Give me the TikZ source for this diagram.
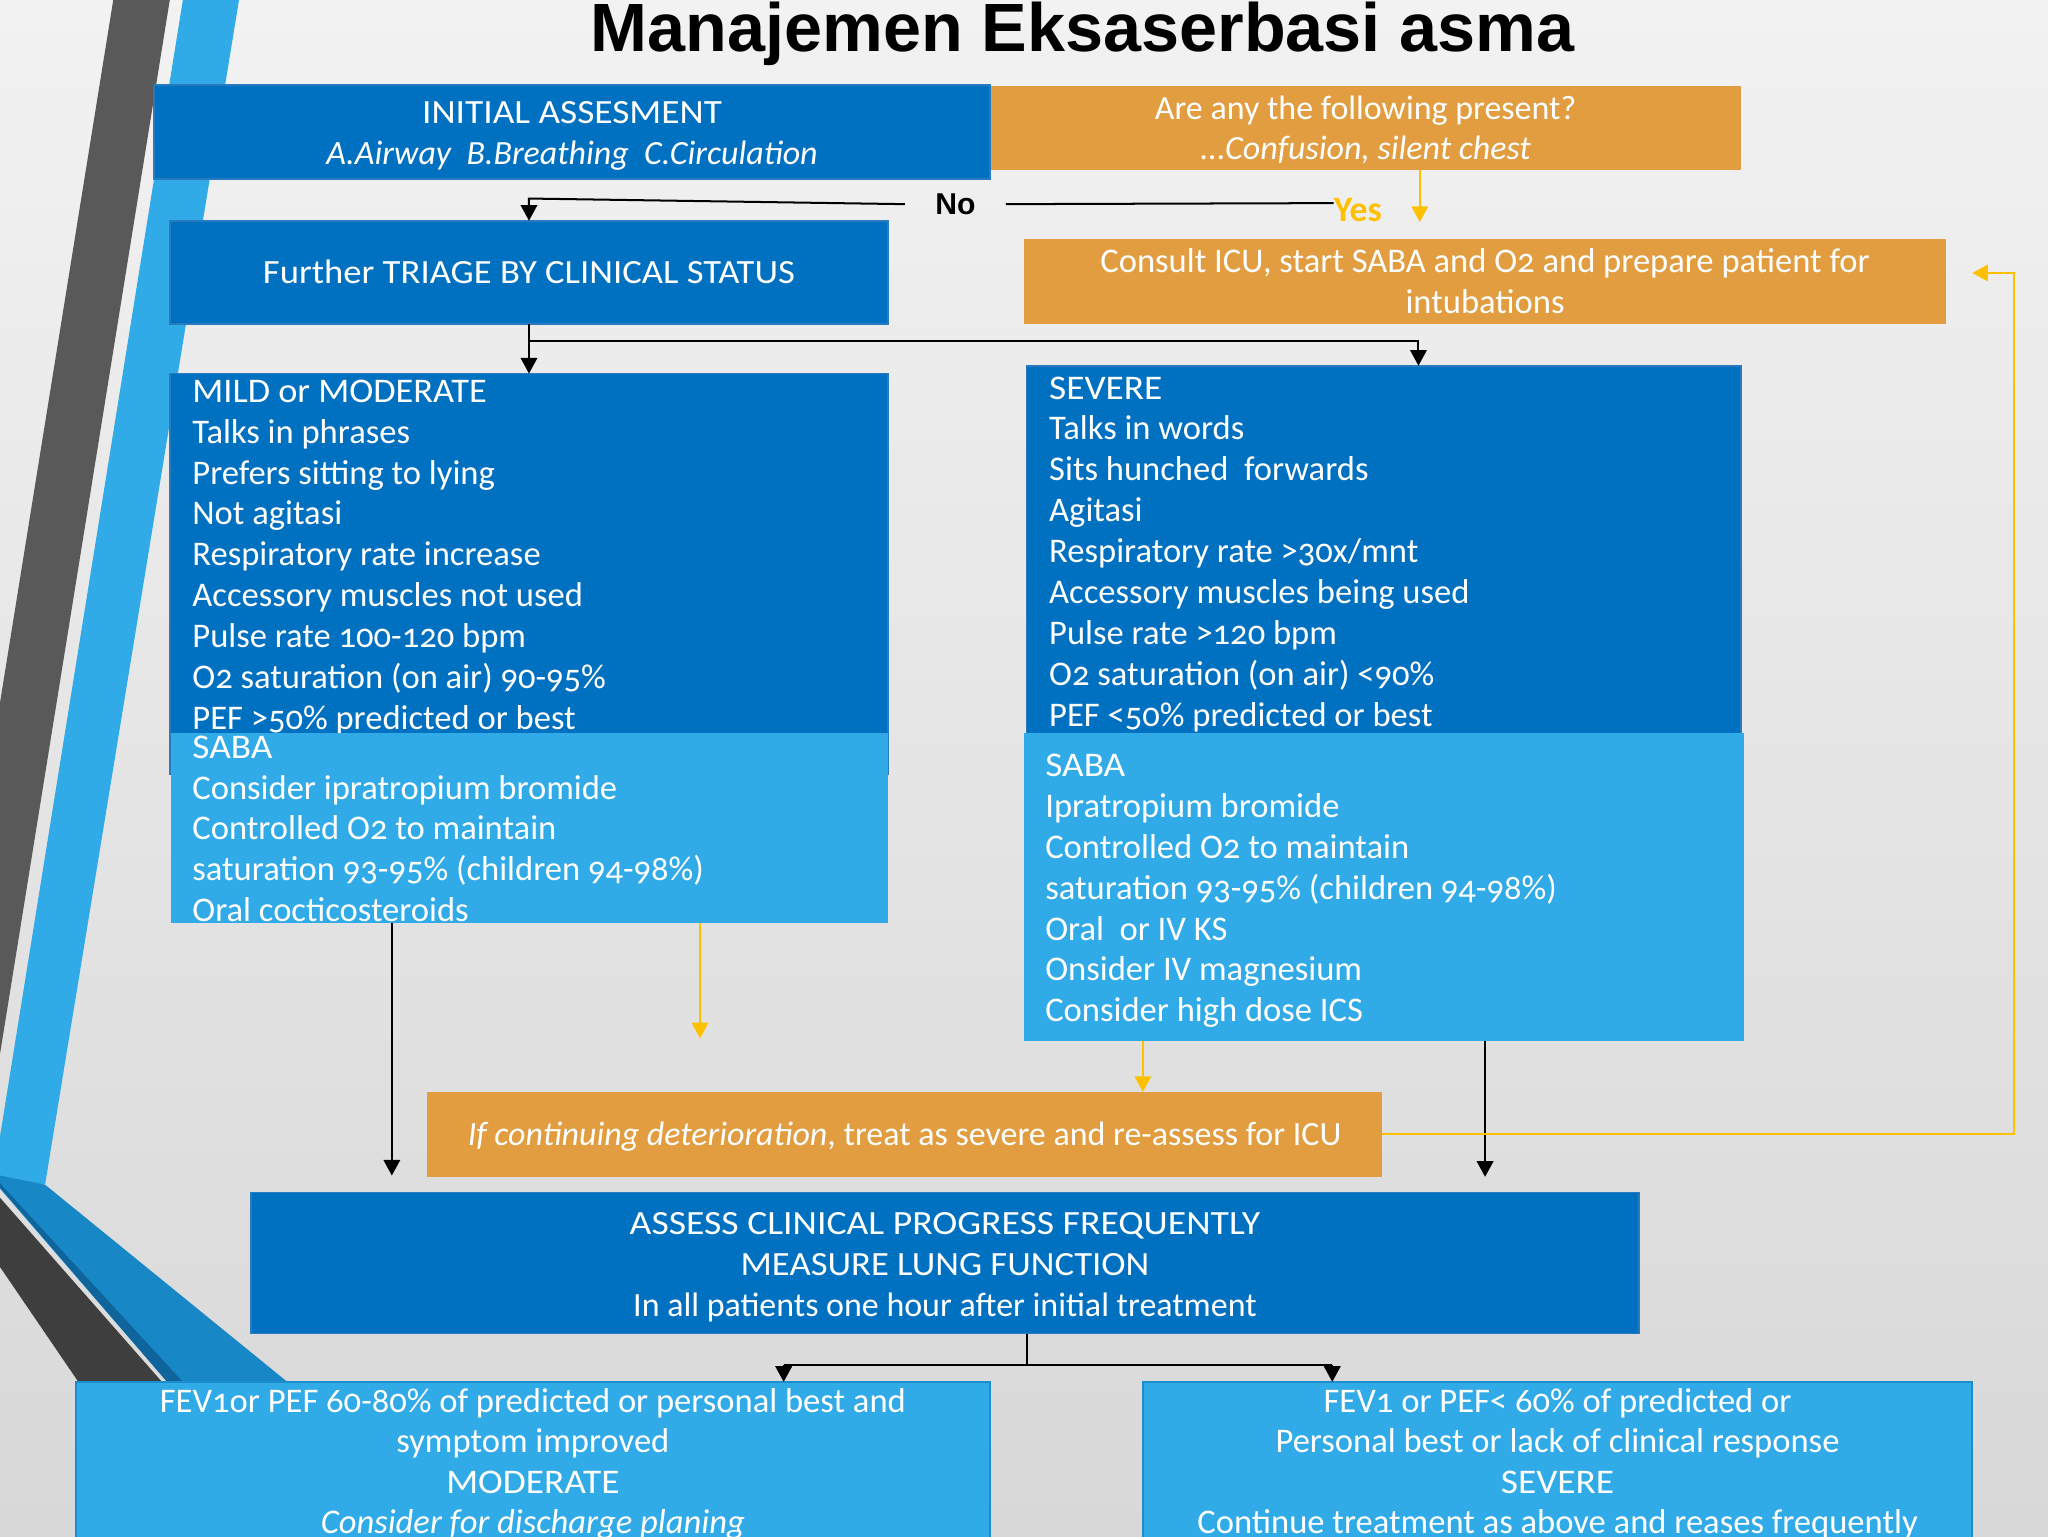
\documentclass[tikz,border=0pt]{standalone}
\usepackage{graphicx}
\usepackage{fontspec}
\setmainfont{Carlito}[Numbers=OldStyle]
\newfontfamily\titlefont{Liberation Sans}
\usetikzlibrary{arrows.meta}
\definecolor{dblue}{RGB}{0,112,192}
\definecolor{dblueB}{RGB}{38,124,190}
\definecolor{lblue}{RGB}{49,170,232}
\definecolor{lblueB}{RGB}{28,140,205}
\definecolor{orng}{RGB}{225,157,64}
\definecolor{gold}{RGB}{255,192,0}
\definecolor{band}{RGB}{24,135,198}
\definecolor{bandD}{RGB}{14,100,155}
\definecolor{grayA}{RGB}{89,89,89}
\definecolor{grayB}{RGB}{62,62,62}
\definecolor{bgtop}{RGB}{242,242,242}
\definecolor{bgbot}{RGB}{216,216,216}
\newcommand\px[1]{#1*0.65pt}
\newcommand\bx{\fontsize{16.9}{20.4}\selectfont}
\newcommand\bl{\fontsize{17.2}{20.4}\selectfont}
\newcommand\hs[2]{\scalebox{#1}[1]{#2}}
\begin{document}
\begin{tikzpicture}[x=0.65pt,y=-0.65pt,
  boxbase/.style={inner sep=0,outer sep=0,rectangle},
  dbox/.style={boxbase,fill=dblue,draw=dblueB,line width=0.8pt},
  lbox/.style={boxbase,fill=lblue},
  lboxb/.style={boxbase,fill=lblue,draw=lblueB,line width=1pt},
  obox/.style={boxbase,fill=orng},
  lt/.style={text=white,font=\bl,inner sep=0,anchor=base west},
  ct/.style={text=white,font=\bx,inner sep=0,anchor=base},
  cl/.style={text=white,font=\bl,inner sep=0,anchor=base},
  blk/.style={draw=black,line width=1pt,-{Triangle[width=8.2pt,length=7.8pt]}},
  blkline/.style={draw=black,line width=1pt},
  gld/.style={draw=gold,line width=0.9pt,-{Triangle[width=8.2pt,length=7.8pt]}},
]
\useasboundingbox (0,0) rectangle (1568,1176);
\clip (0,0) rectangle (1568,1176);
\shade[top color=bgtop,bottom color=bgbot] (0,0) rectangle (1568,1176);
% decorative stripes
\fill[grayA] (86.7,0) -- (130,0) -- (0,807) -- (0,538) -- cycle;
\fill[lblue] (140,0) -- (183,0) -- (34.5,907) -- (0,902) -- (0,870) -- cycle;
\fill[band] (0,900) -- (34.5,907) -- (220,1058) -- (128,1058) -- (0,910) -- cycle;
\fill[bandD] (0,909) -- (128,1058) -- (140,1058) -- (0,906) -- cycle;
\fill[grayB] (0,917) -- (124,1058) -- (60,1058) -- (0,970) -- cycle;

% title
\node[font=\titlefont\bfseries\fontsize{34}{40}\selectfont,inner sep=0,anchor=base] (title) at (829,39.6) {Manajemen Eksaserbasi asma};

% top boxes
\node[obox,minimum width=\px{575},minimum height=\px{64}] (q) at (1045.5,98) {};
\node[dbox,minimum width=\px{640},minimum height=\px{72}] (init) at (438,101) {};
\node[ct] (init1) at (438,94.3) {\hs{1.1}{INITIAL ASSESMENT}};
\node[ct] (init2) at (438,126.3) {\itshape A.Airway\ \ B.Breathing\ \ C.Circulation};
\node[ct] (q1) at (1045.5,91.3) {Are any the following present?};
\node[ct] (q2) at (1045.5,122.3) {\itshape ...Confusion, silent chest};

\node[dbox,minimum width=\px{550},minimum height=\px{79}] (trg) at (405,208.5) {};
\node[ct] (trg1) at (405,217.3) {\hs{1.08}{Further TRIAGE BY CLINICAL STATUS}};

\node[obox,minimum width=\px{706},minimum height=\px{65}] (icu) at (1137,215.5) {};
\node[cl] (icu1) at (1137,208.3) {Consult ICU, start SABA and O2 and prepare patient for};
\node[cl] (icu2) at (1137,240.3) {intubations};

% mild / moderate
\node[dbox,minimum width=\px{550},minimum height=\px{307}] (mild) at (405,439.5) {};
\foreach \t [count=\i from 0] in {{\hs{1.05}{MILD or MODERATE}},{Talks in phrases},{Prefers sitting to lying},{Not agitasi},{Respiratory rate increase},{Accessory muscles not used},{Pulse rate 100-120 bpm},{O2 saturation (on air) 90-95\%},{PEF >50\% predicted or best}}
  \node[lt] (m\i) at (147,308+31.3*\i) {\t};
\node[lbox,minimum width=\px{549},minimum height=\px{146}] (mildT) at (405.5,634) {};
\foreach \t [count=\i from 0] in {{\hs{1.08}{SABA}},{Consider ipratropium bromide},{Controlled O2 to maintain},{saturation 93-95\% (children 94-98\%)},{Oral cocticosteroids}}
  \node[lt] (mt\i) at (147,580.5+31.3*\i) {\t};

% severe
\node[dbox,minimum width=\px{547},minimum height=\px{285}] (sev) at (1059.5,422.5) {};
\foreach \t [count=\i from 0] in {{\hs{1.08}{SEVERE}},{Talks in words},{Sits hunched\ \ forwards},{Agitasi},{Respiratory rate >30x/mnt},{Accessory muscles being used},{Pulse rate >120 bpm},{O2 saturation (on air) <90\%},{PEF <50\% predicted or best}}
  \node[lt] (s\i) at (803,305.5+31.3*\i) {\t};
\node[lbox,minimum width=\px{551},minimum height=\px{236}] (sevT) at (1059.5,679) {};
\foreach \t [count=\i from 0] in {{\hs{1.08}{SABA}},{Ipratropium bromide},{Controlled O2 to maintain},{saturation 93-95\% (children 94-98\%)},{Oral\ \ or IV KS},{Onsider IV magnesium},{Consider high dose ICS}}
  \node[lt] (st\i) at (800,594.5+31.3*\i) {\t};

% continuing deterioration
\node[obox,minimum width=\px{731},minimum height=\px{65}] (ifb) at (692.5,868.5) {};
\node[ct] (ifb1) at (692.5,877.3) {\textit{If continuing deterioration}, treat as severe and re-assess for ICU};

% assess
\node[dbox,minimum width=\px{1063},minimum height=\px{108}] (ass) at (723.5,967) {};
\node[ct] (a0) at (723.5,945.3) {\hs{1.11}{ASSESS CLINICAL PROGRESS FREQUENTLY}};
\node[ct] (a1) at (723.5,976.8) {\hs{1.08}{MEASURE LUNG FUNCTION}};
\node[ct] (a2) at (723.5,1008.3) {In all patients one hour after initial treatment};

% bottom boxes
\node[lboxb,minimum width=\px{700},minimum height=\px{160}] (modb) at (408,1138) {};
\foreach \t [count=\i from 0] in {{FEV1or PEF 60-80\% of predicted or personal best and},{symptom improved},{\hs{1.08}{MODERATE}},{\itshape Consider for discharge planing}}
  \node[cl] (b\i) at (408,1081.3+31*\i) {\t};
\node[lboxb,minimum width=\px{635},minimum height=\px{160}] (sevb) at (1192.5,1138) {};
\foreach \t [count=\i from 0] in {{FEV1 or PEF< 60\% of predicted or},{Personal best or lack of clinical response},{\hs{1.08}{SEVERE}},{Continue treatment as above and reases frequently}}
  \node[cl] (c\i) at (1192.5,1081.3+31*\i) {\t};

% No / Yes labels
\node[font=\titlefont\bfseries\fontsize{15}{18}\selectfont,inner ysep=0,inner xsep=\px{23}] (no) at (731.5,156.3) {No};
\node[font=\fontsize{17.8}{20}\selectfont\bfseries,text=gold,inner sep=0,anchor=base west] (yes) at (1021,169.7) {Yes};

% connector points
\coordinate (yesL) at (1021,155.5);
\coordinate (noK) at (405,152);
\coordinate (qA) at (1087,130);
\coordinate (qB) at (1087,170);
\coordinate (brA) at (405,261);
\coordinate (brB) at (1086,261);
\coordinate (brC) at (1086,280);
\coordinate (mA) at (300,707);
\coordinate (mB) at (300,900);
\coordinate (mY1) at (536,707);
\coordinate (mY2) at (536,795);
\coordinate (sY1) at (875,797);
\coordinate (sY2) at (875,836);
\coordinate (sA) at (1137,797);
\coordinate (sB) at (1137,901);
\coordinate (lpA) at (1542,868.5);
\coordinate (lpB) at (1542,209);
\coordinate (lpC) at (1510,209);
\coordinate (asA) at (786,1045);
\coordinate (asL) at (600,1045);
\coordinate (asR) at (1020,1045);
\coordinate (asL2) at (600,1058);
\coordinate (asR2) at (1020,1058);

% connectors
\draw[blkline] (yesL) -- (no.east);
\draw[blk] (no.west) -- (noK) -- (trg.north);
\draw[gld] (qA) -- (qB);
\draw[blk] (trg.south) -- (mild.north);
\draw[blk] (brA) -- (brB) -- (brC);
\draw[blk] (mA) -- (mB);
\draw[gld] (mY1) -- (mY2);
\draw[gld] (sY1) -- (sY2);
\draw[blk] (sA) -- (sB);
\draw[gld] (ifb.east) -- (lpA) -- (lpB) -- (lpC);
\draw[blkline] (ass.south -| asA) -- (asA);
\draw[blkline] (asL) -- (asR);
\draw[blk] (asL) -- (asL2);
\draw[blk] (asR) -- (asR2);
\end{tikzpicture}
\end{document}
